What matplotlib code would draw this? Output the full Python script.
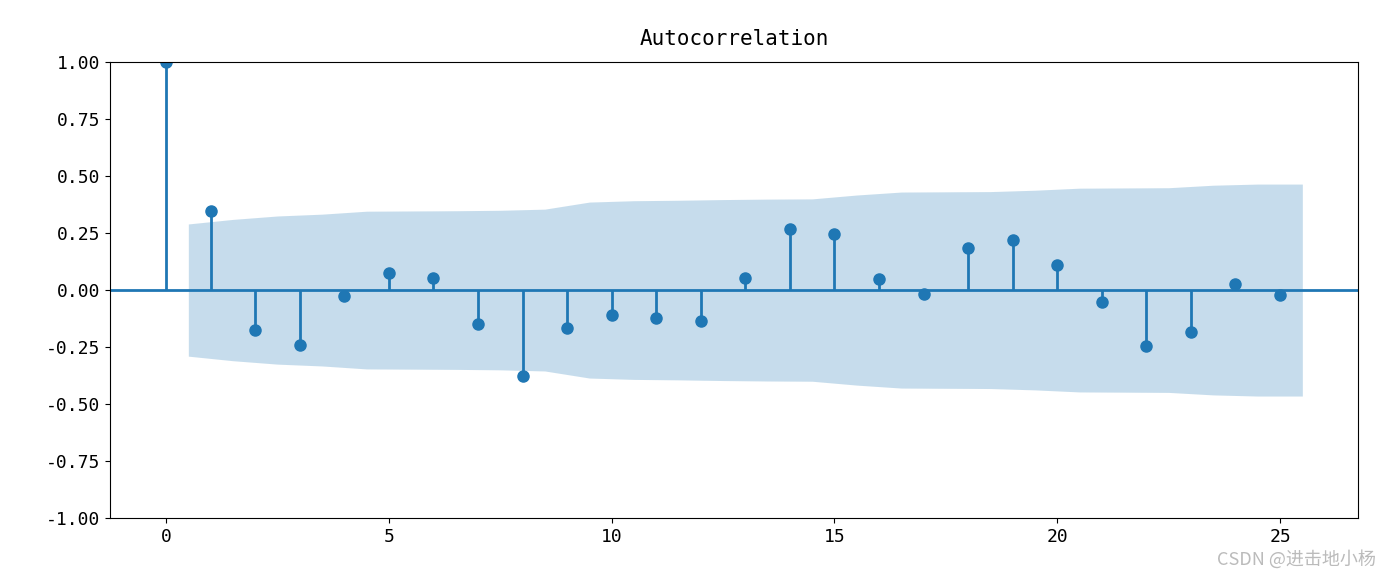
import numpy as np
import matplotlib
matplotlib.use("Agg")
import matplotlib.pyplot as plt

plt.rcParams['font.family'] = ['DejaVu Sans Mono', 'Noto Sans CJK SC']
plt.rcParams['axes.unicode_minus'] = False

# autocorrelation by lag
lags = list(range(26))
acf = [1.0, 0.346, -0.175, -0.241, -0.026, 0.075, 0.053, -0.149, -0.377, -0.167,
       -0.110, -0.123, -0.136, 0.053, 0.268, 0.246, 0.048, -0.018, 0.184, 0.219,
       0.110, -0.053, -0.246, -0.184, 0.026, -0.022]

# confidence band half-width, x = 0.5 .. 25.5
band_x = [i + 0.5 for i in range(26)]
band = [0.290, 0.310, 0.325, 0.333, 0.346, 0.347, 0.348, 0.350, 0.355, 0.386,
        0.392, 0.394, 0.397, 0.399, 0.400, 0.417, 0.430, 0.431, 0.432, 0.438,
        0.447, 0.448, 0.449, 0.460, 0.465, 0.465]

fig = plt.figure(figsize=(13.79, 5.8), dpi=100)
ax = fig.add_axes([0.0798, 0.1069, 0.905, 0.786])

color = '#1f77b4'
ax.fill_between(band_x, [-b for b in band], band, color=color, alpha=0.25, linewidth=0)
ax.vlines(lags, 0, acf, color=color, linewidth=2)
ax.plot(lags, acf, 'o', color=color, markersize=8)
ax.axhline(0, color=color, linewidth=2)

ax.set_xlim(-1.257, 26.75)
ax.set_ylim(-1, 1)
ax.set_yticks(np.arange(-1, 1.01, 0.25))
ax.set_yticklabels([f"{v:.2f}" for v in np.arange(-1, 1.01, 0.25)])
ax.set_xticks([0, 5, 10, 15, 20, 25])
ax.tick_params(labelsize=13)
ax.set_title("Autocorrelation", fontsize=15, pad=12)

fig.text(0.998, 0.02, "CSDN @进击地小杨", ha='right', va='bottom', fontsize=13,
         color='#bbbbbb', family=['Noto Sans CJK SC', 'DejaVu Sans'])

fig.savefig("out.png", dpi=100)
